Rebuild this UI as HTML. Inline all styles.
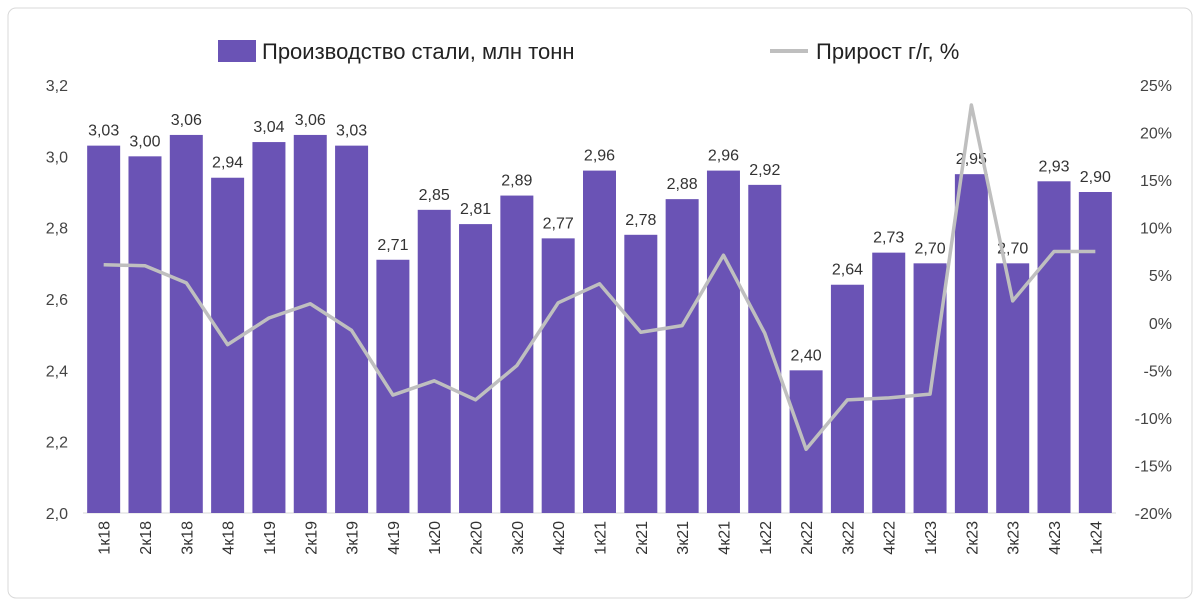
<!DOCTYPE html>
<html><head><meta charset="utf-8"><style>
body{margin:0;background:#fff;}
svg{display:block;font-family:"Liberation Sans","DejaVu Sans",sans-serif;}
</style></head><body>
<svg id="chart" width="1200" height="606" viewBox="0 0 1200 606">
<rect x="8" y="8" width="1184" height="590" rx="8" fill="#fff" stroke="#d9d9d9"/>
<g>
<rect x="218" y="40" width="38" height="22" fill="#6a53b5"/>
<text x="262" y="59" font-size="22" fill="#222">Производство стали, млн тонн</text>
<line x1="770" y1="51" x2="808" y2="51" stroke="#bfbfbf" stroke-width="4"/>
<text x="816" y="59" font-size="22" fill="#222">Прирост г/г, %</text>
</g>
<g id="axes"></g><g id="bars"></g><g id="line"></g>
</svg>
<script>
const categories=["1к18","2к18","3к18","4к18","1к19","2к19","3к19","4к19","1к20","2к20","3к20","4к20","1к21","2к21","3к21","4к21","1к22","2к22","3к22","4к22","1к23","2к23","3к23","4к23","1к24"];
const production=[3.03,3.00,3.06,2.94,3.04,3.06,3.03,2.71,2.85,2.81,2.89,2.77,2.96,2.78,2.88,2.96,2.92,2.40,2.64,2.73,2.70,2.95,2.70,2.93,2.90];
const growth=[6.1,6.0,4.2,-2.3,0.5,2.0,-0.8,-7.6,-6.1,-8.1,-4.5,2.1,4.1,-1.0,-0.3,7.1,-1.1,-13.3,-8.1,-7.9,-7.5,22.9,2.3,7.5,7.5];
const leftTicks=[2.0,2.2,2.4,2.6,2.8,3.0,3.2];
const rightTicks=[-20,-15,-10,-5,0,5,10,15,20,25];
const NS="http://www.w3.org/2000/svg";
const top0=85,bot0=513,x0=83,x1=1116;
const yL=v=>bot0-(v-2.0)/(1.2)*(bot0-top0);
const yR=v=>bot0-(v+20)/45*(bot0-top0);
const step=(x1-x0)/categories.length;
const xC=i=>x0+step*(i+0.5);
function mk(tag,attrs,parent){const e=document.createElementNS(NS,tag);for(const k in attrs)e.setAttribute(k,attrs[k]);parent.appendChild(e);return e;}
const axes=document.getElementById('axes'),bars=document.getElementById('bars'),line=document.getElementById('line');
const ax=mk('line',{x1:x0,x2:x1,y1:bot0,y2:bot0,stroke:'#d9d9d9'},axes);


leftTicks.forEach(v=>{const t=mk('text',{x:68,y:yL(v)+6,'font-size':16,'text-anchor':'end',fill:'#444'},axes);t.textContent=v.toFixed(1).replace('.',',');

});
rightTicks.forEach(v=>{const t=mk('text',{x:1172,y:yR(v)+6,'font-size':16,'text-anchor':'end',fill:'#444'},axes);t.textContent=v+'%';

});
const bw=33;
categories.forEach((c,i)=>{
 const y=yL(production[i]);
 const r=mk('rect',{x:xC(i)-bw/2,y:y,width:bw,height:bot0-y,fill:'#6a53b5'},bars);
 
 
 const l=mk('text',{x:xC(i),y:y-10,'font-size':16,'text-anchor':'middle',fill:'#333'},bars);l.textContent=production[i].toFixed(2).replace('.',',');
 
 
 const xl=mk('text',{x:0,y:0,'font-size':16,'text-anchor':'end',fill:'#333',transform:`translate(${xC(i)+6},521) rotate(-90)`},axes);xl.textContent=c;
 
 
});
const p=mk('polyline',{points:growth.map((g,i)=>xC(i)+','+yR(g)).join(' '),fill:'none',stroke:'#bfbfbf','stroke-width':3.5,'stroke-linejoin':'round'},line);


</script>
</body></html>
